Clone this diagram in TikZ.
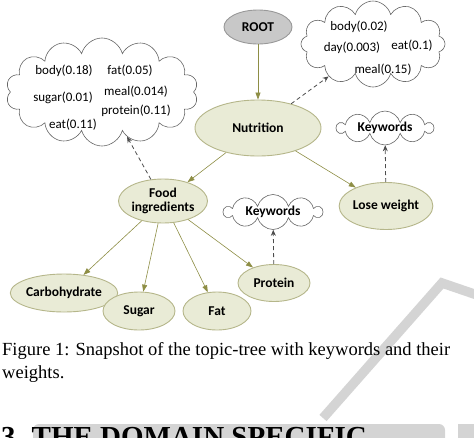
\documentclass[tikz,border=0pt]{standalone}
\usepackage{fontspec}
\setmainfont{Liberation Serif}
\newfontfamily\carlitofont{Carlito}
\usetikzlibrary{shapes.geometric,shapes.symbols,arrows.meta}
\definecolor{olive1}{HTML}{8E8E45}
\definecolor{ellfill}{HTML}{E9EBD6}
\definecolor{elldraw}{HTML}{B5B68A}
\definecolor{rootfill}{HTML}{C8C8C8}
\definecolor{wm}{HTML}{D4D4D4}
\tikzset{
  topic/.style={ellipse, draw=elldraw, fill=ellfill, line width=0.9pt, inner sep=0pt, font=\carlitofont\bfseries\fontsize{13.5}{14.5}\selectfont, align=center},
  cloudbox/.style={cloud, draw=gray!80!black, fill=white, line width=0.6pt, cloud ignores aspect, inner sep=0pt},
  kw/.style={font=\carlitofont\fontsize{13}{14}\selectfont, inner sep=0pt},
  tree/.style={draw=olive1, line width=0.6pt, -{Triangle[length=7pt,width=5pt]}},
  kwlink/.style={draw=black!70, line width=0.8pt, dashed, dash pattern=on 4pt off 3pt, -{Stealth[length=6pt,width=5pt]}},
}
\begin{document}
\begin{tikzpicture}[x=1pt,y=-1pt]
\useasboundingbox (0,0) rectangle (474,437);
% watermark
\draw[wm, line width=9.5pt] (323,418) -- (442,283) -- (480,296);
\fill[wm, rounded corners=6pt] (33,424) rectangle (445,445);
\fill[wm] (458,424) rectangle (480,445);
% clouds
\node[cloudbox, cloud puffs=14, minimum width=192pt, minimum height=108pt] (cl1) at (102,92) {};
\node[cloudbox, cloud puffs=12, minimum width=144pt, minimum height=86pt] (cl2) at (373,44) {};
\node[cloudbox, cloud puffs=10, minimum width=96pt, minimum height=33pt, font=\carlitofont\bfseries\fontsize{13.5}{14.5}\selectfont] (kw1) at (385,128) {Keywords};
\node[cloudbox, cloud puffs=10, minimum width=98pt, minimum height=35pt, font=\carlitofont\bfseries\fontsize{13.5}{14.5}\selectfont] (kw2) at (273,212) {Keywords};
% cloud texts
\node[kw] (t1) at (64,71) {body(0.18)};
\node[kw] (t2) at (130,71) {fat(0.05)};
\node[kw] (t3) at (63,98) {sugar(0.01)};
\node[kw] (t4) at (136,92) {meal(0.014)};
\node[kw] (t5) at (136,111) {protein(0.11)};
\node[kw] (t6) at (73,125) {eat(0.11)};
\node[kw] (u1) at (359,27) {body(0.02)};
\node[kw] (u2) at (352,48) {day(0.003)};
\node[kw] (u3) at (412,46) {eat(0.1)};
\node[kw] (u4) at (383,70) {meal(0.15)};
% topics
\node[topic, fill=rootfill, draw=gray!80, minimum width=68pt, minimum height=34pt] (root) at (258,27) {ROOT};
\node[topic, minimum width=126pt, minimum height=56pt] (nut) at (258,128) {Nutrition};
\node[topic, minimum width=88pt, minimum height=44pt] (food) at (163,201) {Food\\ingredients};
\node[topic, minimum width=92pt, minimum height=47pt] (lose) at (386,206) {Lose weight};
\node[topic, minimum width=72pt, minimum height=37pt] (prot) at (274,283) {Protein};
\node[topic, minimum width=88pt, minimum height=38pt] (carb) at (64,293) {Carbohydrate};
\node[topic, minimum width=72pt, minimum height=38pt] (sug) at (139,311) {Sugar};
\node[topic, minimum width=68pt, minimum height=38pt] (fat) at (217,311) {Fat};
% tree links
\draw[tree] (root) -- (nut);
\draw[tree] (nut) -- (food);
\draw[tree] (nut) -- (lose);
\draw[tree] (food) -- (carb);
\draw[tree] (food) -- (sug);
\draw[tree] (food) -- (fat);
\draw[tree] (food) -- (prot);
% keyword links
\draw[kwlink] (food) -- (cl1);
\draw[kwlink] (nut) -- (cl2);
\draw[kwlink] (prot) -- (kw2);
\draw[kwlink] (lose) -- (kw1);
% caption
\node[anchor=base west, inner sep=0pt, font=\fontsize{18.5}{21}\selectfont] (cap1) at (2,355) {Figure 1: Snapshot of the topic-tree with keywords and their};
\node[anchor=base west, inner sep=0pt, font=\fontsize{18.5}{21}\selectfont] (cap2) at (2,378) {weights.};
\begin{scope}
\clip (0,0) rectangle (474,437);
\node[anchor=base west, inner sep=0pt, font=\bfseries\fontsize{29}{32}\selectfont] (sec) at (1,446) {3\hspace{16pt}THE DOMAIN SPECIFIC};
\end{scope}
\end{tikzpicture}
\end{document}
